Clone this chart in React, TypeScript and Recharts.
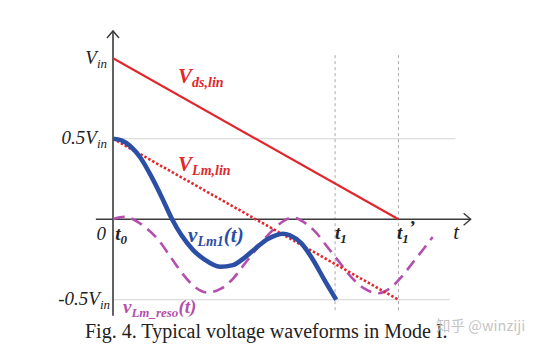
import React from 'react'
import { LineChart, Line, XAxis, YAxis, ReferenceLine, ReferenceDot } from 'recharts'

// time axis: t0 = 0, t1' = 1 ; voltage axis: Vin = 1
const vdsT = [0, 1]
const vdsV = [1, 0]

const lmLinT = [0, 1]
const lmLinV = [0.5, -0.5]

const lm1T = [0, 0.03, 0.06, 0.095, 0.13, 0.17, 0.207, 0.24, 0.28, 0.32, 0.375, 0.42, 0.46, 0.5, 0.54, 0.57, 0.595, 0.62, 0.66, 0.7, 0.74, 0.782]
const lm1V = [0.5, 0.49, 0.455, 0.385, 0.28, 0.14, 0, -0.1, -0.19, -0.25, -0.295, -0.285, -0.24, -0.18, -0.125, -0.1, -0.09, -0.1, -0.15, -0.25, -0.375, -0.5]

const resoT = [0, 0.02, 0.04, 0.06, 0.08, 0.12, 0.16, 0.2, 0.24, 0.28, 0.33, 0.38, 0.42, 0.46, 0.5, 0.55, 0.59, 0.63, 0.67, 0.71, 0.75, 0.79, 0.83, 0.88, 0.93, 0.97, 1.01, 1.05, 1.09, 1.12]
const resoV = [0, 0.01, 0.015, 0.008, -0.01, -0.06, -0.13, -0.23, -0.33, -0.41, -0.455, -0.43, -0.37, -0.28, -0.19, -0.085, -0.02, 0.01, -0.02, -0.08, -0.17, -0.26, -0.35, -0.43, -0.46, -0.43, -0.36, -0.27, -0.18, -0.11]

const yTicks = [1, 0.5, 0, -0.5]
const yTickText = ['V', '0.5V', '0', '-0.5V']
const yTickSub = ['in', 'in', '', 'in']

const t1 = 0.778
const t1p = 1

const toData = (ts: number[], vs: number[]) => ts.map((t, i) => ({ t, v: vs[i] }))

const SERIF = '"Liberation Serif", "Times New Roman", serif'
const RED = '#e1262c'
const BLUE = '#2c4fa6'
const PURPLE = '#b44fae'
const AXIS = '#3a3a3a'

type Part = { s: string; sub?: boolean; sup?: boolean }

const Rich = ({ x, y, parts, size, subSize, color, bold = true }: any) => {
  let shift = 0
  return (
    <text x={x} y={y} fill={color} fontFamily={SERIF} fontStyle="italic" fontWeight={bold ? 'bold' : 'normal'} fontSize={size}>
      {parts.map((p: Part, i: number) => {
        const target = p.sub ? 4 : p.sup ? -5 : 0
        const dy = target - shift
        shift = target
        return (
          <tspan key={i} dy={dy} fontSize={p.sub ? subSize : size}>
            {p.s}
          </tspan>
        )
      })}
    </text>
  )
}

const YTick = (props: any) => {
  const { y, payload } = props
  const i = yTicks.indexOf(payload.value)
  const isZero = payload.value === 0
  const right = payload.value === -0.5 ? 110 : isZero ? 106 : 107
  return (
    <text x={right} y={y + (isZero ? 21 : 5.5)} textAnchor="end" fontFamily={SERIF} fontStyle="italic" fontSize={19} fill="#222">
      {yTickText[i]}
      {yTickSub[i] && (
        <tspan dy={4} fontSize={13}>
          {yTickSub[i]}
        </tspan>
      )}
    </text>
  )
}

const xArrow = (p: any) => (
  <g>
    <line x1={p.x1} y1={p.y1} x2={p.x2} y2={p.y2} stroke={AXIS} strokeWidth={1.6} />
    <path d={`M${p.x2 - 7},${p.y2 - 6} L${p.x2},${p.y2} L${p.x2 - 7},${p.y2 + 6}`} fill="none" stroke={AXIS} strokeWidth={1.4} />
  </g>
)

const yArrow = (p: any) => (
  <g>
    <line x1={p.x1} y1={p.y1} x2={p.x2} y2={p.y2} stroke={AXIS} strokeWidth={1.6} />
    <path d={`M${p.x2 - 6},${p.y2 + 7} L${p.x2},${p.y2} L${p.x2 + 6},${p.y2 + 7}`} fill="none" stroke={AXIS} strokeWidth={1.4} />
  </g>
)

const at = (parts: Part[], color: string, size: number, subSize: number, bold = true) => (p: any) => (
  <Rich x={p.cx} y={p.cy} parts={parts} color={color} size={size} subSize={subSize} bold={bold} />
)

export default function App() {
  return (
    <div style={{ position: 'absolute', left: 0, top: 0, width: 554, height: 352, background: '#fff' }}>
      <LineChart width={554} height={352} margin={{ top: 10, right: 0, bottom: 4, left: 0 }}>
        <XAxis type="number" dataKey="t" domain={[0, 1.545]} hide allowDataOverflow />
        <YAxis
          type="number"
          domain={[-0.8, 1.3]}
          ticks={yTicks}
          interval={0}
          width={113}
          axisLine={false}
          tickLine={false}
          tick={<YTick />}
          allowDataOverflow
        />

        <ReferenceLine segment={[{ x: 0, y: 0.5 }, { x: 1.2, y: 0.5 }]} stroke="#d4d4d4" strokeWidth={1} ifOverflow="visible" />
        <ReferenceLine segment={[{ x: 0, y: -0.5 }, { x: 1.18, y: -0.5 }]} stroke="#d4d4d4" strokeWidth={1} ifOverflow="visible" />
        <ReferenceLine segment={[{ x: t1, y: -0.565 }, { x: t1, y: 1.03 }]} stroke="#a8a8a8" strokeDasharray="3 3" ifOverflow="visible" />
        <ReferenceLine segment={[{ x: t1p, y: -0.565 }, { x: t1p, y: 1.03 }]} stroke="#a8a8a8" strokeDasharray="3 3" ifOverflow="visible" />
        <ReferenceLine segment={[{ x: -0.06, y: 0 }, { x: 1.253, y: 0 }]} shape={xArrow} ifOverflow="visible" />
        <ReferenceLine segment={[{ x: 0, y: -0.6 }, { x: 0, y: 1.17 }]} shape={yArrow} ifOverflow="visible" />

        <Line data={toData(vdsT, vdsV)} dataKey="v" type="linear" stroke={RED} strokeWidth={2.2} dot={false} isAnimationActive={false} />
        <Line data={toData(resoT, resoV)} dataKey="v" type="monotone" stroke={PURPLE} strokeWidth={2.6} strokeDasharray="12 7" dot={false} isAnimationActive={false} />
        <Line data={toData(lmLinT, lmLinV)} dataKey="v" type="linear" stroke={RED} strokeWidth={2.6} strokeDasharray="2.5 2" dot={false} isAnimationActive={false} />
        <Line data={toData(lm1T, lm1V)} dataKey="v" type="monotone" stroke={BLUE} strokeWidth={4.6} dot={false} isAnimationActive={false} />

        <ReferenceDot x={0.228} y={0.845} r={0} ifOverflow="visible" shape={at([{ s: 'V' }, { s: 'ds,lin', sub: true }], RED, 21, 14)} />
        <ReferenceDot x={0.228} y={0.3} r={0} ifOverflow="visible" shape={at([{ s: 'V' }, { s: 'Lm,lin', sub: true }], RED, 21, 14)} />
        <ReferenceDot x={0.263} y={-0.14} r={0} ifOverflow="visible" shape={at([{ s: 'v' }, { s: 'Lm1', sub: true }, { s: '(t)' }], BLUE, 21, 14)} />
        <ReferenceDot x={0.035} y={-0.584} r={0} ifOverflow="visible" shape={at([{ s: 'v' }, { s: 'Lm_reso', sub: true }, { s: '(t)' }], PURPLE, 19, 13)} />

        <ReferenceDot x={0.008} y={-0.13} r={0} ifOverflow="visible" shape={at([{ s: 't' }, { s: '0', sub: true }], '#222', 19, 13)} />
        <ReferenceDot x={t1} y={-0.12} r={0} ifOverflow="visible" shape={at([{ s: 't' }, { s: '1', sub: true }], '#222', 19, 13)} />
        <ReferenceDot x={t1p - 0.005} y={-0.12} r={0} ifOverflow="visible" shape={at([{ s: 't' }, { s: '1', sub: true }, { s: '’', sup: true }], '#222', 19, 13)} />
        <ReferenceDot x={1.192} y={-0.12} r={0} ifOverflow="visible" shape={at([{ s: 't' }], '#222', 21, 14, false)} />
      </LineChart>

      <svg width={554} height={352} style={{ position: 'absolute', left: 0, top: 0, pointerEvents: 'none' }}>
        <text x={85} y={338} fontFamily={SERIF} fontSize={20} fill="#222">
          Fig. 4. Typical voltage waveforms in Mode I.
        </text>
        <text x={436} y={331} fontFamily='"Noto Sans CJK SC", "Noto Sans", sans-serif' fontSize={14.5} fill="#c4c4c4">
          知乎 @winziji
        </text>
      </svg>
    </div>
  )
}
